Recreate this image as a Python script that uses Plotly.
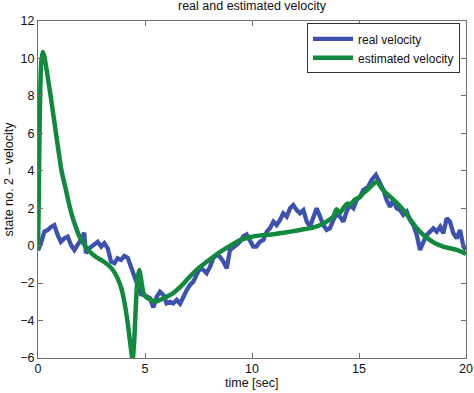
import plotly.graph_objects as go

# real velocity (blue)
t_real = [0.0, 0.14, 0.3, 0.46, 0.61, 0.76, 0.92, 1.07, 1.23, 1.39, 1.54, 1.7, 1.85, 2.0, 2.16, 2.24,
          2.4, 2.63, 2.79, 2.95, 3.1, 3.26, 3.41, 3.57, 3.72, 3.88, 4.03, 4.19, 4.35, 4.5, 4.66, 4.81,
          4.97, 5.08, 5.23, 5.39, 5.55, 5.7, 5.86, 6.01, 6.17, 6.32, 6.48, 6.64, 6.79, 6.95, 7.1, 7.26,
          7.41, 7.57, 7.73, 7.88, 8.04, 8.19, 8.35, 8.5, 8.66, 8.82, 8.97, 9.13, 9.28, 9.44, 9.59, 9.75,
          9.9, 10.06, 10.2, 10.37, 10.53, 10.69, 10.84, 11.0, 11.15, 11.31, 11.46, 11.62, 11.78, 11.93,
          12.09, 12.24, 12.4, 12.56, 12.71, 12.87, 13.02, 13.18, 13.33, 13.49, 13.64, 13.8, 13.96, 14.11,
          14.27, 14.42, 14.58, 14.74, 14.89, 15.05, 15.2, 15.43, 15.59, 15.79, 15.98, 16.14, 16.29, 16.45,
          16.6, 16.76, 16.92, 17.07, 17.23, 17.38, 17.54, 17.7, 17.85, 18.0, 18.16, 18.32, 18.47, 18.63,
          18.79, 18.94, 19.1, 19.25, 19.41, 19.57, 19.72, 19.88, 20.0]
v_real = [-0.25, 0.14, 0.75, 0.84, 1.0, 1.1, 0.57, 0.21, 0.39, 0.48, 0.04, -0.23, 0.04, 0.3, 0.7, -0.4,
          -0.14, 0.04, 0.21, -0.05, 0.13, -0.14, -0.85, -0.94, -0.67, -0.76, -0.55, -0.65, -1.12, -1.7, -2.1, -2.6,
          -2.65, -2.72, -2.8, -3.3, -2.72, -2.46, -2.63, -3.08, -3.0, -3.08, -2.9, -3.1, -2.72, -2.37, -2.1, -1.92,
          -1.56, -1.21, -1.3, -1.47, -1.12, -0.67, -0.5, -0.59, -0.85, -1.21, -0.23, -0.05, 0.04, 0.21, 0.5, 0.6,
          0.3, -0.05, -0.05, 0.21, 0.3, 0.75, 0.93, 1.28, 1.1, 1.37, 1.73, 1.55, 2.0, 2.17,
          1.9, 1.73, 1.9, 1.28, 1.01, 1.55, 2.0, 1.55, 1.1, 0.84, 0.93, 1.37, 1.73, 1.55,
          1.28, 1.82, 2.17, 2.0, 2.44, 2.62, 2.98, 3.15, 3.51, 3.78, 3.33, 2.98, 2.44, 2.08,
          2.44, 2.0, 1.9, 1.64, 1.82, 1.37, 1.1, 0.57, -0.23, 0.13, 0.57, 0.75, 0.93, 0.75,
          1.01, 0.66, 1.46, 1.28, 0.66, 0.39, 0.84, -0.05, -0.23]

# estimated velocity (green)
t_est = [0.0, 0.03, 0.06, 0.1, 0.15, 0.22, 0.3, 0.4, 0.59, 0.84, 1.1, 1.3, 1.5, 1.62, 1.8, 1.93, 2.1,
         2.4, 2.7, 3.0, 3.3, 3.5, 3.7, 3.9, 4.05, 4.2, 4.32, 4.42, 4.5, 4.58, 4.65, 4.73, 4.82, 4.92,
         5.05, 5.3, 5.5, 5.8, 6.3, 6.7, 7.1, 7.5, 7.9, 8.3, 8.7, 9.1, 9.5, 9.9, 10.4, 10.9, 11.3, 11.8,
         12.3, 12.8, 13.2, 13.5, 13.8, 13.95, 14.1, 14.3, 14.45, 14.6, 14.8, 15.05, 15.2, 15.5, 15.83,
         16.1, 16.45, 16.8, 17.08, 17.4, 17.7, 18.0, 18.32, 18.6, 18.94, 19.3, 19.57, 20.0]
v_est = [-0.25, 2.0, 5.0, 8.0, 9.8, 10.35, 10.1, 9.4, 8.0, 6.0, 4.0, 3.0, 2.0, 1.5, 0.9, 0.5, 0.15,
         -0.3, -0.6, -0.8, -1.05, -1.3, -1.7, -2.3, -3.1, -4.2, -5.3, -6.1, -5.0, -3.0, -1.8, -1.3, -1.8, -2.5,
         -2.75, -2.9, -3.0, -2.85, -2.55, -2.15, -1.65, -1.2, -0.85, -0.5, -0.2, 0.08, 0.32, 0.45, 0.55, 0.6, 0.66, 0.75,
         0.85, 0.95, 1.1, 1.3, 1.55, 1.95, 1.75, 2.05, 2.25, 2.2, 2.45, 2.6, 2.8, 3.1, 3.42,
         3.0, 2.62, 2.25, 1.9, 1.4, 0.93, 0.58, 0.3, 0.1, -0.05, -0.15, -0.23, -0.44]

x_ticks = [0, 5, 10, 15, 20]
y_ticks = [-6, -4, -2, 0, 2, 4, 6, 8, 10, 12]

FONT = "Liberation Sans, Arial, Helvetica, sans-serif"
TXT = "#111"

fig = go.Figure()
fig.add_trace(go.Scatter(x=t_real, y=v_real, mode="lines", name="real velocity",
                         line=dict(color="#3D52B0", width=4.3)))
fig.add_trace(go.Scatter(x=t_est, y=v_est, mode="lines", name="estimated velocity",
                         line=dict(color="#128A3E", width=4.5, shape="spline", smoothing=0.6)))

axis_common = dict(showline=True, linecolor="#707070", linewidth=1, mirror="ticks",
                   ticks="inside", ticklen=5, tickcolor="#707070", showgrid=False, zeroline=False,
                   automargin=False,
                   tickfont=dict(family=FONT, size=12.5, color=TXT))

fig.update_layout(
    width=474, height=393,
    margin=dict(l=38, r=8, t=21, b=35, autoexpand=False),
    paper_bgcolor="white", plot_bgcolor="white",
    font=dict(family=FONT, size=12.5, color=TXT),
    xaxis=dict(range=[0, 20], tickvals=x_ticks, ticktext=[str(v) for v in x_ticks],
               ticklabelstandoff=-1, **axis_common),
    yaxis=dict(range=[-6, 12], tickvals=y_ticks, ticktext=[str(v).replace("-", "\u2212") for v in y_ticks],
               **axis_common),
    legend=dict(x=0.986, xanchor="right", y=0.993, yanchor="top",
                bgcolor="white", bordercolor="#333", borderwidth=1,
                font=dict(family=FONT, size=12, color=TXT),
                itemwidth=40, tracegroupgap=0),
    showlegend=True,
    annotations=[
        dict(text="real and estimated velocity", xref="paper", yref="paper", x=0.5, y=1.0,
             yshift=15, xanchor="center", yanchor="middle", showarrow=False,
             font=dict(family=FONT, size=12.5, color=TXT)),
        dict(text="time [sec]", xref="paper", yref="paper", x=0.5, y=0.0,
             yshift=-25, xanchor="center", yanchor="middle", showarrow=False,
             font=dict(family=FONT, size=12.5, color=TXT)),
        dict(text="state no. 2 \u2013 velocity", xref="paper", yref="paper", x=0.0, y=0.5,
             xshift=-30, yshift=10, xanchor="center", yanchor="middle", textangle=-90, showarrow=False,
             font=dict(family=FONT, size=12.5, color=TXT)),
    ],
)

fig.write_html("out.html", config={"displayModeBar": False},
               post_script="document.body.style.margin='0';document.body.style.padding='0';")
